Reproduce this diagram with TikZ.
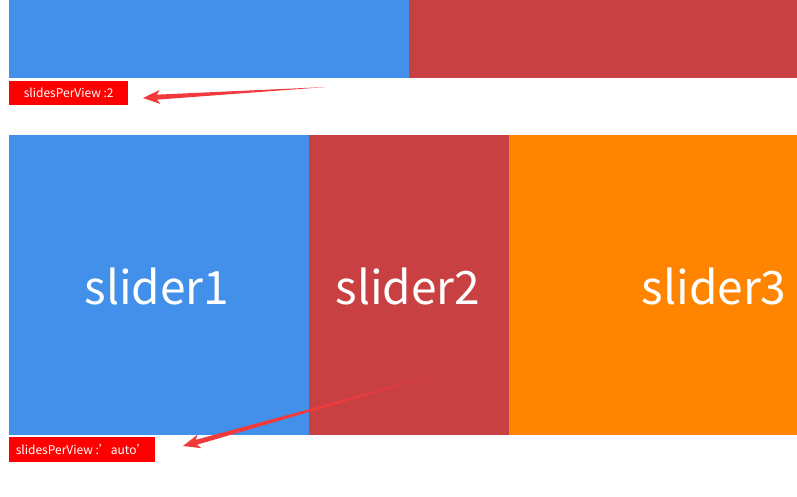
\documentclass[tikz,border=0pt]{standalone}
\usepackage{fontspec}
\setmainfont{Noto Sans CJK SC}
\usetikzlibrary{calc}
\definecolor{sblue}{HTML}{4390EB}
\definecolor{sred}{HTML}{C94043}
\definecolor{sorange}{HTML}{FF8500}
\definecolor{arr}{HTML}{F23A3D}
\tikzset{panel/.style={fill=#1,draw=none},
 big/.style={text=white,font=\fontsize{46}{50}\selectfont},
 lab/.style={fill=red,text=white,inner sep=0pt,anchor=north west,font=\fontsize{12}{14}\selectfont}}
\newcommand{\tarrow}[2]{%
 \coordinate (T) at #1; \coordinate (S) at #2;
 \coordinate (H) at ($(T)!17pt!(S)$);
 \coordinate (N) at ($(T)!14pt!(S)$);
 \fill[arr] (T) -- ($(H)!7pt!90:(S)$) -- ($(N)!2.5pt!90:(S)$) -- (S) -- ($(N)!2.5pt!-90:(S)$) -- ($(H)!7pt!-90:(S)$) -- cycle;}
\begin{document}
\begin{tikzpicture}[x=1pt,y=-1pt]
\useasboundingbox[fill=white] (0,0) rectangle (797,496);
\fill[panel=sblue] (9,0) rectangle (409,78);
\fill[panel=sred] (409,0) rectangle (797,78);
\node[lab,minimum width=119pt,minimum height=24pt] (l1) at (9,81) {slidesPerView :2};
\tarrow{(143,98)}{(326,87)}
\fill[panel=sblue] (9,135) rectangle (309,435);
\fill[panel=sred] (309,135) rectangle (509,435);
\fill[panel=sorange] (509,135) rectangle (797,435);
\node[big] (s1) at (157,286) {slider1};
\node[big] (s2) at (408,286) {slider2};
\node[big,anchor=east] (s3) at (790,286) {slider3};
\node[lab,minimum width=146pt,minimum height=25pt] (l2) at (9,437) {slidesPerView :'auto'};
\tarrow{(183,446)}{(432,376)}
\end{tikzpicture}
\end{document}
